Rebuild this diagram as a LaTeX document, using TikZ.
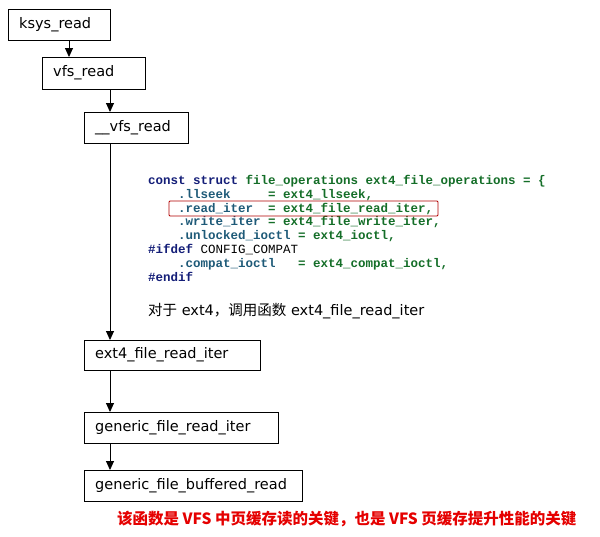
\documentclass[tikz,border=0pt]{standalone}
\usepackage{fontspec}
\setmainfont{DejaVu Sans}
\newfontfamily\codefont{Liberation Mono}
\newfontfamily\cjk{Noto Sans CJK SC}
\usetikzlibrary{arrows.meta}
\definecolor{kw}{RGB}{20,30,120}
\definecolor{fld}{RGB}{30,90,120}
\definecolor{val}{RGB}{20,110,40}
\begin{document}
\begin{tikzpicture}[x=1pt,y=-1pt,
  conn/.style={draw=black,line width=0.9pt,-{Triangle[length=9pt,width=8pt]}},
  lbl/.style={anchor=west,inner sep=0pt,font=\fontsize{14.5}{16}\selectfont},
  code/.style={anchor=west,inner sep=0pt,font=\codefont\bfseries\fontsize{12.5}{14}\selectfont}]
\useasboundingbox (0,0) rectangle (600,536);
\fill[white] (0,0) rectangle (600,536);
\newcommand{\mybox}[6]{%
 \draw[line width=0.9pt] (#2,#3) rectangle (#4,#5);
 \node[lbl] (#1) at (#2+11,{(#3+#5)/2}) {#6};}
\mybox{a}{8}{9}{110}{40}{ksys\_read}
\mybox{b}{42}{57}{145}{89}{vfs\_read}
\mybox{c}{84}{112}{188}{143}{\_\_vfs\_read}
\mybox{d}{84}{340}{260}{370}{ext4\_file\_read\_iter}
\mybox{e}{84}{412}{278}{443}{generic\_file\_read\_iter}
\mybox{f}{84}{470}{302}{501}{generic\_file\_buffered\_read}
\coordinate (a-b) at (69,40);
\coordinate (b-b) at (110,89);
\coordinate (c-b) at (110,143);
\coordinate (d-b) at (110,370);
\coordinate (e-b) at (110,443);
\coordinate (b-t) at (69,57);
\coordinate (c-t) at (110,112);
\coordinate (d-t) at (110,340);
\coordinate (e-t) at (110,412);
\coordinate (f-t) at (110,470);
\draw[conn] (a-b) -- (b-t);
\draw[conn] (b-b) -- (c-t);
\draw[conn] (c-b) -- (d-t);
\draw[conn] (d-b) -- (e-t);
\draw[conn] (e-b) -- (f-t);
\node[code] (l1) at (148,181) {\textcolor{kw}{const struct }\textcolor{val}{file\_operations ext4\_file\_operations = \{}};
\node[code] (l2) at (148,195) {\textcolor{fld}{\ \ \ \ .llseek\ \ \ \ \ }\textcolor{val}{= ext4\_llseek,}};
\node[code] (l3) at (148,209) {\textcolor{fld}{\ \ \ \ .read\_iter\ \ }\textcolor{val}{= ext4\_file\_read\_iter,}};
\node[code] (l4) at (148,222) {\textcolor{fld}{\ \ \ \ .write\_iter }\textcolor{val}{= ext4\_file\_write\_iter,}};
\node[code] (l5) at (148,236) {\textcolor{fld}{\ \ \ \ .unlocked\_ioctl }\textcolor{val}{= ext4\_ioctl,}};
\node[code] (l6) at (148,250) {\textcolor{kw}{\#ifdef }\textcolor{black}{\mdseries CONFIG\_COMPAT}};
\node[code] (l7) at (148,264) {\textcolor{fld}{\ \ \ \ .compat\_ioctl\ \ \ }\textcolor{val}{= ext4\_compat\_ioctl,}};
\node[code] (l8) at (148,277) {\textcolor{kw}{\#endif}};
\draw[red!70!black,line width=0.8pt,rounded corners=1pt] (169,201) rectangle (438,216);
\node[lbl] (note) at (148,311) {{\cjk 对于} ext4{\cjk ，调用函数} ext4\_file\_read\_iter};
\node[anchor=west,inner sep=0pt,text=red!90!black,font=\cjk\bfseries\fontsize{15.5}{17}\selectfont] (key) at (117,519) {该函数是 VFS 中页缓存读的关键，也是 VFS 页缓存提升性能的关键};
\end{tikzpicture}
\end{document}
